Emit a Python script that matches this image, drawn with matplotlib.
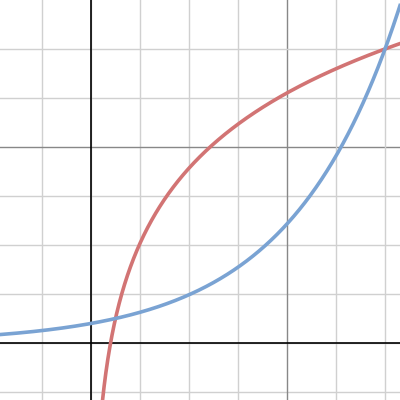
import numpy as np
import matplotlib.pyplot as plt

# y = c * b**x and its inverse, meeting at (0.5, 0.5) and (6, 6)
base = 1.571
scale = 0.399
x_range = (-1.857, 6.306)
y_range = (-1.163, 7.0)

fig = plt.figure(figsize=(4, 4), dpi=100)
ax = fig.add_axes([0, 0, 1, 1])

for v in np.arange(-1, 7):
    major = v % 4 == 0 and v != 0
    c = "#888888" if major else "#d0d0d0"
    ax.axvline(v, color=c, lw=1.0, zorder=0)
    ax.axhline(v, color=c, lw=1.0, zorder=0)
ax.axvline(0, color="black", lw=1.2, zorder=1)
ax.axhline(0, color="black", lw=1.2, zorder=1)

x = np.linspace(x_range[0], x_range[1], 800)
ax.plot(x, scale * base ** x, color="#7aa3d3", lw=2.6, zorder=3)

xr = np.linspace(0.2, x_range[1], 2000)
ax.plot(xr, np.log(xr / scale) / np.log(base), color="#d27474", lw=2.6, zorder=2)

ax.set_xlim(*x_range)
ax.set_ylim(*y_range)
ax.axis("off")
fig.savefig("out.png")
